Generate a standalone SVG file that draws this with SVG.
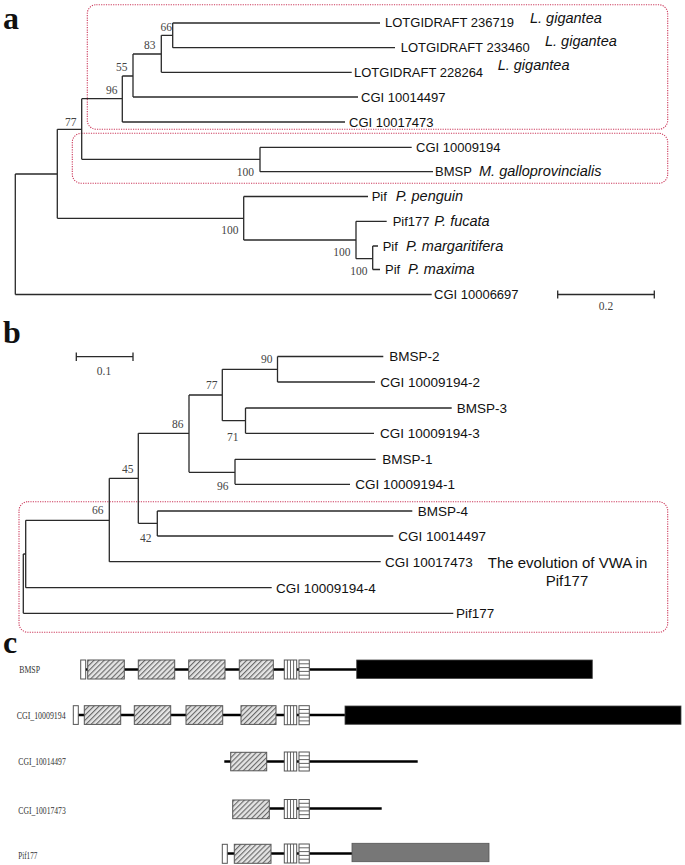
<svg xmlns="http://www.w3.org/2000/svg" width="685" height="865" viewBox="0 0 685 865">
<style>
.br{fill:none;stroke:#2a2a2a;stroke-width:1.3}
.lbl{font-family:"Liberation Sans",Arial,sans-serif;font-size:13px;fill:#111}
.lb2{font-family:"Liberation Sans",Arial,sans-serif;font-size:13.5px;fill:#111}
.sp{font-family:"Liberation Sans",Arial,sans-serif;font-size:14.5px;font-style:italic;fill:#111}
.bs{font-family:"Liberation Serif","Times New Roman",serif;font-size:11.5px;fill:#444;text-anchor:end}
.sc{font-family:"Liberation Serif","Times New Roman",serif;font-size:11.5px;fill:#444;text-anchor:middle}
.pl{font-family:"Liberation Serif","Times New Roman",serif;font-size:32px;font-weight:bold;fill:#111}
.box{fill:none;stroke:#cc3a5c;stroke-width:1.1;stroke-dasharray:1.2 1.2}
.note{font-family:"Liberation Sans",Arial,sans-serif;font-size:15px;fill:#111;text-anchor:middle}
.gl{font-family:"Liberation Serif","Times New Roman",serif;font-size:10.5px;fill:#333}
.ln{stroke:#000;stroke-width:2.6;fill:none}
.hb{fill:url(#hatch);stroke:#555;stroke-width:1}
.wb{fill:#fff;stroke:#555;stroke-width:1}
.st{stroke:#555;stroke-width:0.9}
</style>
<defs>
<pattern id="hatch" width="3.6" height="3.6" patternUnits="userSpaceOnUse" patternTransform="rotate(45)">
<rect width="3.6" height="3.6" fill="#e4e4e4"/>
<line x1="0.6" y1="0" x2="0.6" y2="3.6" stroke="#5a5a5a" stroke-width="1"/>
</pattern>
<g id="stripes">
<rect class="wb" x="0" y="0" width="12.4" height="19"/>
<line class="st" x1="3.1" y1="0" x2="3.1" y2="19"/>
<line class="st" x1="6.2" y1="0" x2="6.2" y2="19"/>
<line class="st" x1="9.3" y1="0" x2="9.3" y2="19"/>
<rect class="wb" x="14.7" y="0" width="10.3" height="19"/>
<line class="st" x1="14.7" y1="3.8" x2="25" y2="3.8"/>
<line class="st" x1="14.7" y1="7.6" x2="25" y2="7.6"/>
<line class="st" x1="14.7" y1="11.4" x2="25" y2="11.4"/>
<line class="st" x1="14.7" y1="15.2" x2="25" y2="15.2"/>
</g>
</defs>
<rect width="685" height="865" fill="#fff"/>

<!-- Panel labels -->
<text class="pl" x="3" y="28.5">a</text>
<text class="pl" x="3" y="343">b</text>
<text class="pl" x="3" y="653">c</text>

<!-- Highlight boxes -->
<g id="groups">
<rect class="box" x="87.3" y="4.7" width="580.4" height="124.6" rx="9"/>
<rect class="box" x="72.3" y="133.3" width="595.4" height="50" rx="9"/>
<rect class="box" x="19" y="501.7" width="648.7" height="130.6" rx="9"/>
</g>

<!-- Connectors: tree branches -->
<g id="connectors">
<path class="br" d="M15.3,174 V294.5 M15.3,174 H57.3 M15.3,294.5 H431.7
M57.3,129.3 V218.3 M57.3,129.3 H81.7 M57.3,218.3 H243.7
M81.7,98.7 V159.3 M81.7,98.7 H122.3 M81.7,159.3 H260
M260,147.3 V171.7 M260,147.3 H411.7 M260,171.7 H433
M122.3,76 V122 M122.3,76 H133 M122.3,122 H345
M133,54 V97 M133,54 H161.3 M133,97 H358
M161.3,35.3 V72.3 M161.3,35.3 H172.7 M161.3,72.3 H351.7
M172.7,23 V47.7 M172.7,23 H380 M172.7,47.7 H395
M243.7,196.5 V240 M243.7,196.5 H368 M243.7,240 H356
M356,221.3 V258.7 M356,221.3 H386.7 M356,258.7 H372.7
M372.7,246 V269.5 M372.7,246 H378 M372.7,269.5 H380"/>
<path class="br" d="M23.3,554 V613.3 M23.3,554 H25.7 M23.3,613.3 H453.3
M25.7,520.3 V587.7 M25.7,520.3 H109.3 M25.7,587.7 H271.7
M109.3,478.3 V561.7 M109.3,478.3 H138.3 M109.3,561.7 H380.7
M138.3,433.3 V523.3 M138.3,433.3 H189 M138.3,523.3 H157.3
M157.3,511 V536 M157.3,511 H412.3 M157.3,536 H393.3
M189,395 V472.3 M189,395 H222.3 M189,472.3 H235
M235,459.3 V484.3 M235,459.3 H375.7 M235,484.3 H350
M222.3,369.3 V420.7 M222.3,369.3 H277.5 M222.3,420.7 H245.5
M277.5,356.5 V382 M277.5,356.5 H383.3 M277.5,382 H375
M245.5,408 V433.3 M245.5,408 H451.7 M245.5,433.3 H374"/>
</g>

<!-- Scale bars -->
<g id="scale-a">
<path class="br" d="M557.7,294.5 H654.3 M557.7,290.5 V298.5 M654.3,290.5 V298.5"/>
<text class="sc" x="606" y="310">0.2</text>
</g>
<g id="scale-b">
<path class="br" d="M76.3,356.7 H133 M76.3,352.5 V361 M133,352.5 V361"/>
<text class="sc" x="104" y="375">0.1</text>
</g>

<!-- Panel a bootstrap values -->
<g id="support-a">
<text class="bs" x="172" y="30.7">66</text>
<text class="bs" x="155.5" y="49.3">83</text>
<text class="bs" x="127.5" y="71">55</text>
<text class="bs" x="117.5" y="94.3">96</text>
<text class="bs" x="76.5" y="125.7">77</text>
<text class="bs" x="254" y="176">100</text>
<text class="bs" x="238.5" y="234.3">100</text>
<text class="bs" x="350.5" y="256">100</text>
<text class="bs" x="367.5" y="275">100</text>
</g>

<!-- Panel a leaves -->
<g id="a-LOTGIDRAFT236719"><text class="lbl" x="385" y="27.2">LOTGIDRAFT 236719</text><text class="sp" x="530" y="22.5">L. gigantea</text></g>
<g id="a-LOTGIDRAFT233460"><text class="lbl" x="400.7" y="51.9">LOTGIDRAFT 233460</text><text class="sp" x="545" y="45.5">L. gigantea</text></g>
<g id="a-LOTGIDRAFT228264"><text class="lbl" x="354" y="76.6">LOTGIDRAFT 228264</text><text class="sp" x="497.7" y="70.3">L. gigantea</text></g>
<g id="a-CGI10014497"><text class="lbl" x="361" y="101.5">CGI 10014497</text></g>
<g id="a-CGI10017473"><text class="lbl" x="349" y="126.5">CGI 10017473</text></g>
<g id="a-CGI10009194"><text class="lbl" x="416" y="151.8">CGI 10009194</text></g>
<g id="a-BMSP"><text class="lbl" x="435" y="176.2">BMSP</text><text class="sp" x="479" y="176.2">M. galloprovincialis</text></g>
<g id="a-Pif-penguin"><text class="lbl" x="371.7" y="201">Pif</text><text class="sp" x="395.7" y="201">P. penguin</text></g>
<g id="a-Pif177-fucata"><text class="lbl" x="392.7" y="225.8">Pif177</text><text class="sp" x="434.3" y="225.8">P. fucata</text></g>
<g id="a-Pif-margaritifera"><text class="lbl" x="382.7" y="250.5">Pif</text><text class="sp" x="406" y="250.5">P. margaritifera</text></g>
<g id="a-Pif-maxima"><text class="lbl" x="385" y="274">Pif</text><text class="sp" x="408" y="274">P. maxima</text></g>
<g id="a-CGI10006697"><text class="lbl" x="434" y="299">CGI 10006697</text></g>

<!-- Panel b bootstrap values -->
<g id="support-b">
<text class="bs" x="272.5" y="363">90</text>
<text class="bs" x="217.5" y="389">77</text>
<text class="bs" x="238.5" y="440.7">71</text>
<text class="bs" x="183.5" y="427.7">86</text>
<text class="bs" x="228.5" y="490">96</text>
<text class="bs" x="133.5" y="472.7">45</text>
<text class="bs" x="151.5" y="541.7">42</text>
<text class="bs" x="103.5" y="514.3">66</text>
</g>

<!-- Panel b leaves -->
<g id="b-BMSP-2"><text class="lb2" x="389.3" y="361.3">BMSP-2</text></g>
<g id="b-CGI10009194-2"><text class="lb2" x="380.3" y="386.8">CGI 10009194-2</text></g>
<g id="b-BMSP-3"><text class="lb2" x="456.7" y="412.8">BMSP-3</text></g>
<g id="b-CGI10009194-3"><text class="lb2" x="380" y="438.1">CGI 10009194-3</text></g>
<g id="b-BMSP-1"><text class="lb2" x="382.3" y="464.1">BMSP-1</text></g>
<g id="b-CGI10009194-1"><text class="lb2" x="355.3" y="489.1">CGI 10009194-1</text></g>
<g id="b-BMSP-4"><text class="lb2" x="417.7" y="515.8">BMSP-4</text></g>
<g id="b-CGI10014497"><text class="lb2" x="398.3" y="540.8">CGI 10014497</text></g>
<g id="b-CGI10017473"><text class="lb2" x="385" y="566.5">CGI 10017473</text></g>
<g id="b-CGI10009194-4"><text class="lb2" x="276" y="592.5">CGI 10009194-4</text></g>
<g id="b-Pif177"><text class="lb2" x="456" y="618.1">Pif177</text></g>
<g id="b-note"><text class="note" x="567.5" y="568">The evolution of VWA in</text><text class="note" x="567" y="586">Pif177</text></g>

<!-- Panel c domain architectures -->
<g id="c-BMSP">
<text class="gl" x="19.3" y="673.3" textLength="20.7" lengthAdjust="spacingAndGlyphs">BMSP</text>
<line class="ln" x1="81" y1="669.5" x2="357" y2="669.5"/>
<rect class="wb" x="80.7" y="660" width="5" height="19"/>
<rect class="hb" x="87.7" y="660" width="36.6" height="19"/>
<rect class="hb" x="138.3" y="660" width="36.4" height="19"/>
<rect class="hb" x="188.7" y="660" width="36.3" height="19"/>
<rect class="hb" x="239.3" y="660" width="34" height="19"/>
<use href="#stripes" x="284.3" y="660"/>
<rect x="356.7" y="660" width="235.6" height="18.5" fill="#000" stroke="#444" stroke-width="0.8"/>
</g>
<g id="c-CGI_10009194">
<text class="gl" x="16.7" y="719" textLength="49" lengthAdjust="spacingAndGlyphs">CGI_10009194</text>
<line class="ln" x1="73.5" y1="715" x2="346" y2="715"/>
<rect class="wb" x="73.3" y="705.7" width="5" height="18.7"/>
<rect class="hb" x="84.3" y="705.7" width="36.4" height="18.7"/>
<rect class="hb" x="134.3" y="705.7" width="36.4" height="18.7"/>
<rect class="hb" x="186" y="705.7" width="36.7" height="18.7"/>
<rect class="hb" x="241" y="705.7" width="35" height="18.7"/>
<use href="#stripes" x="284.3" y="705.7"/>
<rect x="345" y="706" width="336" height="18.3" fill="#000" stroke="#444" stroke-width="0.8"/>
</g>
<g id="c-CGI_10014497">
<text class="gl" x="18.3" y="765.3" textLength="47.4" lengthAdjust="spacingAndGlyphs">CGI_10014497</text>
<line class="ln" x1="224.3" y1="761.5" x2="417.7" y2="761.5"/>
<rect class="hb" x="230.7" y="752.3" width="36" height="18.5"/>
<use href="#stripes" x="284.3" y="752"/>
</g>
<g id="c-CGI_10017473">
<text class="gl" x="18.3" y="814" textLength="47.4" lengthAdjust="spacingAndGlyphs">CGI_10017473</text>
<line class="ln" x1="260" y1="808.5" x2="381.7" y2="808.5"/>
<rect class="hb" x="232.7" y="800" width="36.6" height="18.7"/>
<use href="#stripes" x="284.3" y="799.5"/>
</g>
<g id="c-Pif177">
<text class="gl" x="18.3" y="859" textLength="19" lengthAdjust="spacingAndGlyphs">Pif177</text>
<line class="ln" x1="222.5" y1="853.5" x2="353" y2="853.5"/>
<rect class="wb" x="222.3" y="844.3" width="5" height="19"/>
<rect class="hb" x="234.3" y="844.3" width="36.7" height="19"/>
<use href="#stripes" x="284.3" y="844"/>
<rect x="352" y="843.3" width="137" height="18.4" fill="#777" stroke="#555" stroke-width="0.8"/>
</g>
</svg>
